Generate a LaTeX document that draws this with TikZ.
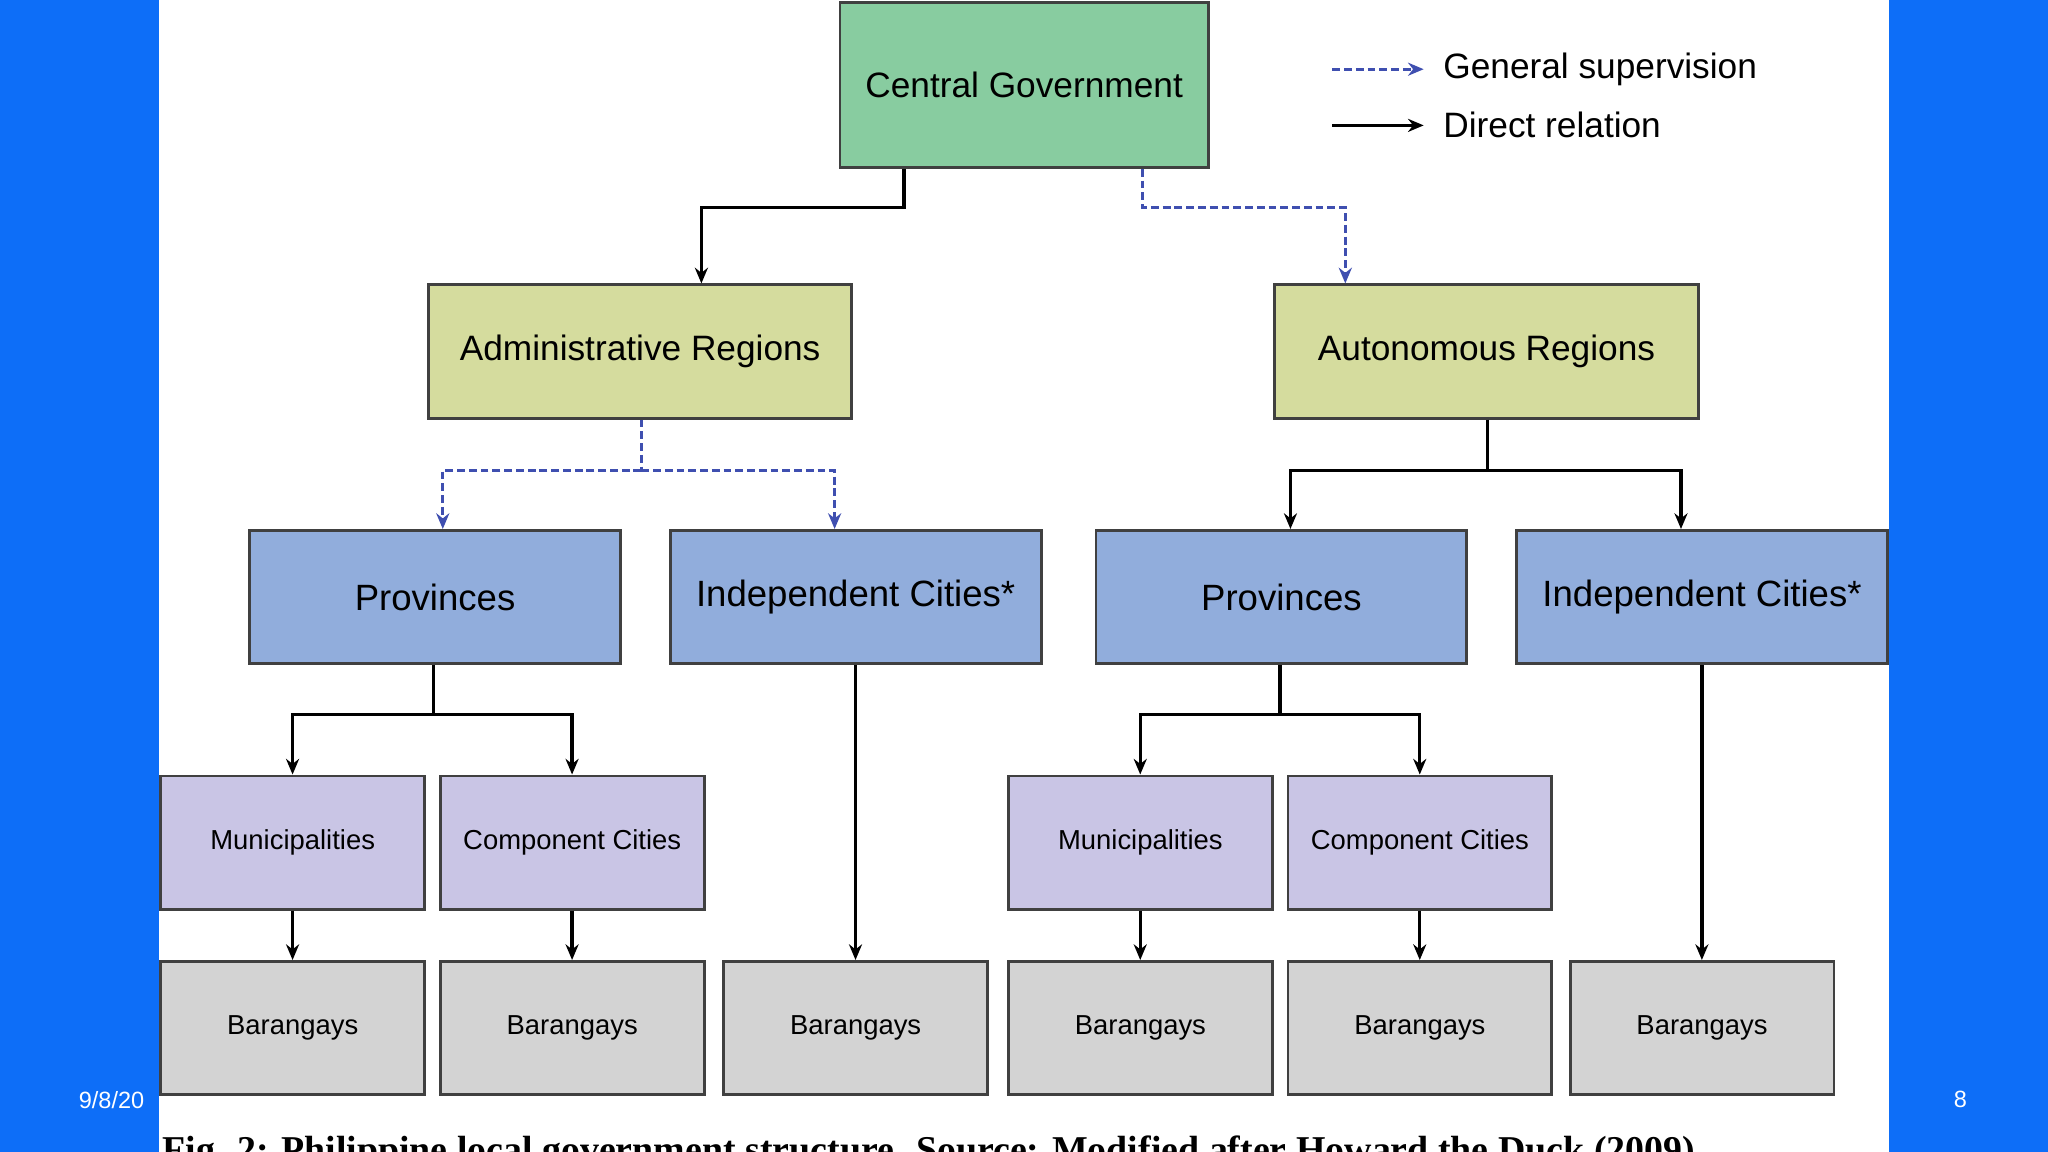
\documentclass[tikz,border=0pt]{standalone}
\usepackage{fontspec}
\setmainfont{Liberation Sans}
\newfontfamily\capfont{Liberation Serif}
\usetikzlibrary{arrows.meta}
\definecolor{bgblue}{HTML}{0D6EF8}
\definecolor{cg}{HTML}{88CCA0}
\definecolor{reg}{HTML}{D5DC9E}
\definecolor{prov}{HTML}{91ADDC}
\definecolor{mun}{HTML}{C9C5E5}
\definecolor{bar}{HTML}{D3D3D3}
\definecolor{dash}{HTML}{3F4FB0}
\begin{document}
\begin{tikzpicture}[x=0.5pt,y=-0.5pt,
 box/.style={draw=black!75,line width=1.1pt,inner sep=0pt,anchor=north west},
 direct/.style={draw=black,line width=1.3pt,-{Stealth[length=6pt,width=5pt]}},
 sup/.style={draw=dash,line width=1.2pt,dash pattern=on 3pt off 1.5pt,-{Stealth[length=6pt,width=5pt]}},
 seg/.style={draw=black,line width=1.3pt},
 dseg/.style={draw=dash,line width=1.2pt,dash pattern=on 3pt off 1.5pt}]
\useasboundingbox (0,0) rectangle (1568,882);
\clip (0,0) rectangle (1568,882);
\fill[bgblue] (0,0) rectangle (1568,882);
\fill[white] (122,0) rectangle (1446,882);
\node[box,fill=cg,minimum width=141pt,minimum height=63pt,font=\fontsize{13.5}{15}\selectfont] (cg) at (642,1) {Central Government};
\node[box,fill=reg,minimum width=162pt,minimum height=51pt,font=\fontsize{13.5}{15}\selectfont] (ar) at (327,217) {Administrative Regions};
\node[box,fill=reg,minimum width=162pt,minimum height=51pt,font=\fontsize{13.5}{15}\selectfont] (au) at (975,217) {Autonomous Regions};
\tikzset{pb/.style={box,fill=prov,minimum width=142pt,minimum height=51pt,font=\fontsize{14}{16}\selectfont}}
\node[pb] (pl) at (190,405) {Provinces};
\node[pb] (il) at (512,405) {Independent Cities*};
\node[pb] (pr) at (838,405) {Provinces};
\node[pb] (ir) at (1160,405) {Independent Cities*};
\tikzset{mb/.style={box,fill=mun,minimum width=101pt,minimum height=51pt,font=\fontsize{10.5}{12}\selectfont},
 bb/.style={box,fill=bar,minimum width=101pt,minimum height=51pt,font=\fontsize{10.5}{12}\selectfont}}
\node[mb] (ml) at (122,593) {Municipalities};
\node[mb] (cl) at (336,593) {Component Cities};
\node[mb] (mr) at (771,593) {Municipalities};
\node[mb] (cr) at (985,593) {Component Cities};
\node[bb] (b1) at (122,735) {Barangays};
\node[bb] (b2) at (336,735) {Barangays};
\node[bb] (b3) at (553,735) {Barangays};
\node[bb] (b4) at (771,735) {Barangays};
\node[bb] (b5) at (985,735) {Barangays};
\node[bb] (b6) at (1201,735) {Barangays};
\draw[direct] (cg.south -| 692,0) |- (537,159) -- (ar.north -| 537,0);
\draw[sup] (cg.south -| 875,0) |- (1030,159) -- (au.north -| 1030,0);
\draw[dseg] (ar.south -| 491,0) -- (491,360);
\draw[sup] (491,360) -| (pl.north -| 339,0);
\draw[sup] (491,360) -| (il.north -| 639,0);
\draw[seg] (au.south -| 1139,0) -- (1139,360);
\draw[direct] (1139,360) -| (pr.north -| 988,0);
\draw[direct] (1139,360) -| (ir.north -| 1287,0);
\draw[seg] (pl.south -| 332,0) -- (332,547);
\draw[direct] (332,547) -| (ml.north -| 224,0);
\draw[direct] (332,547) -| (cl.north -| 438,0);
\draw[seg] (pr.south -| 980,0) -- (980,547);
\draw[direct] (980,547) -| (mr.north -| 873,0);
\draw[direct] (980,547) -| (cr.north -| 1087,0);
\draw[direct] (il.south -| 655,0) -- (b3.north -| 655,0);
\draw[direct] (ir.south -| 1303,0) -- (b6.north -| 1303,0);
\draw[direct] (ml.south -| 224,0) -- (b1.north -| 224,0);
\draw[direct] (cl.south -| 438,0) -- (b2.north -| 438,0);
\draw[direct] (mr.south -| 873,0) -- (b4.north -| 873,0);
\draw[direct] (cr.south -| 1087,0) -- (b5.north -| 1087,0);
\coordinate (l1a) at (1020,53); \coordinate (l1b) at (1090,53);
\coordinate (l2a) at (1020,96); \coordinate (l2b) at (1090,96);
\draw[sup] (l1a) -- (l1b);
\draw[direct] (l2a) -- (l2b);
\node[anchor=west,font=\fontsize{13.5}{15}\selectfont] (lt1) at (1098,53) {General supervision};
\node[anchor=west,font=\fontsize{13.5}{15}\selectfont] (lt2) at (1098,96) {Direct relation};
\node[anchor=west,white,font=\fontsize{9}{10}\selectfont,inner sep=0pt] (date) at (60,842) {9/8/20};
\node[white,font=\fontsize{9}{10}\selectfont,inner sep=0pt] (pg) at (1501,842) {8};
\node[anchor=west,inner sep=0pt,font=\capfont\bfseries\fontsize{14.5}{16}\selectfont] (cap) at (124,883) {Fig. 2: Philippine local government structure. Source: Modified after \textsc{Howard the Duck} (2009)};
\end{tikzpicture}
\end{document}
